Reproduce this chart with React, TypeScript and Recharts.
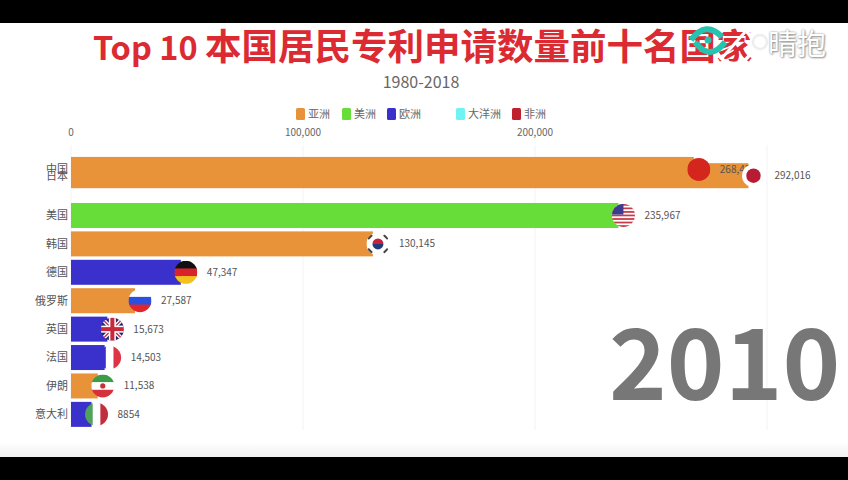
import React from "react";
import { ComposedChart, Bar, XAxis, YAxis, CartesianGrid, Legend, LabelList } from "recharts";

const FONT = '"Noto Sans CJK SC", "Noto Sans", sans-serif';

const countries = ["中国", "日本", "美国", "韩国", "德国", "俄罗斯", "英国", "法国", "伊朗", "意大利"];
const patentValues = [268454, 292016, 235967, 130145, 47347, 27587, 15673, 14503, 11538, 8854];
const countryContinents = ["亚洲", "亚洲", "美洲", "亚洲", "欧洲", "亚洲", "欧洲", "欧洲", "亚洲", "欧洲"];
// Rank positions are mid-animation: China and Japan are swapping places.
const ranks = [1.38, 1.6, 3, 4, 5, 6, 7, 8, 9, 10];
const continents = ["亚洲", "美洲", "欧洲", "大洋洲", "非洲"];
const continentColors = ["#E8923A", "#66DD38", "#3A31CC", "#70F3F5", "#C0212F"];
const legendSwatchX = [296, 342, 387, 456, 512];
const xTicks = [0, 100000, 200000];
const BAR_THICKNESS = 25;

const rows = countries.map((name, i) => {
  const row: Record<string, any> = { name, rank: ranks[i], value: patentValues[i] };
  row[countryContinents[i]] = patentValues[i];
  return row;
});

const fmtValue = (v: number) => (v >= 10000 ? v.toLocaleString("en-US") : String(v));
const fmtAxis = (v: number) => v.toLocaleString("en-US");

function Flag({ name, cx, cy }: { name: string; cx: number; cy: number }) {
  const r = 11.5;
  const x = cx - r;
  const y = cy - r;
  const d = r * 2;
  const id = "flag" + countries.indexOf(name);
  let body: React.ReactNode = null;
  const band = (k: number, n: number, fill: string) => (
    <rect x={x} y={y + (d * k) / n} width={d} height={d / n + 0.5} fill={fill} />
  );
  const vband = (k: number, n: number, fill: string) => (
    <rect x={x + (d * k) / n} y={y} width={d / n + 0.5} height={d} fill={fill} />
  );
  if (name === "中国") {
    body = <rect x={x} y={y} width={d} height={d} fill="#D5261E" />;
  } else if (name === "日本") {
    body = (
      <g>
        <rect x={x} y={y} width={d} height={d} fill="#fff" />
        <circle cx={cx} cy={cy} r={7.2} fill="#B71C34" />
      </g>
    );
  } else if (name === "美国") {
    body = (
      <g>
        {Array.from({ length: 13 }, (_, k) => (
          <React.Fragment key={k}>{band(k, 13, k % 2 ? "#fff" : "#C8394A")}</React.Fragment>
        ))}
        <rect x={x} y={y} width={d * 0.5} height={d * 0.46} fill="#3C3B8E" />
      </g>
    );
  } else if (name === "韩国") {
    body = (
      <g>
        <rect x={x} y={y} width={d} height={d} fill="#fff" />
        <path d={`M${cx - 5.5} ${cy} A5.5 5.5 0 0 1 ${cx + 5.5} ${cy} Z`} fill="#C8213F" />
        <path d={`M${cx - 5.5} ${cy} A5.5 5.5 0 0 0 ${cx + 5.5} ${cy} Z`} fill="#223A78" />
        {[[-8, -7, 1], [8, -7, -1], [-8, 7, -1], [8, 7, 1]].map(([a, b, s], k) => (
          <line key={k} x1={cx + a - 2} y1={cy + b + 2 * s} x2={cx + a + 2} y2={cy + b - 2 * s} stroke="#444" strokeWidth={2.4} />
        ))}
      </g>
    );
  } else if (name === "德国") {
    body = <g>{band(0, 3, "#111")}{band(1, 3, "#D9232B")}{band(2, 3, "#F2C21A")}</g>;
  } else if (name === "俄罗斯") {
    body = <g>{band(0, 3, "#fff")}{band(1, 3, "#2B4FE0")}{band(2, 3, "#E0262C")}</g>;
  } else if (name === "英国") {
    body = (
      <g>
        <rect x={x} y={y} width={d} height={d} fill="#27276F" />
        <line x1={x} y1={y} x2={x + d} y2={y + d} stroke="#fff" strokeWidth={4} />
        <line x1={x + d} y1={y} x2={x} y2={y + d} stroke="#fff" strokeWidth={4} />
        <line x1={x} y1={y} x2={x + d} y2={y + d} stroke="#C8283C" strokeWidth={1.4} />
        <line x1={x + d} y1={y} x2={x} y2={y + d} stroke="#C8283C" strokeWidth={1.4} />
        <rect x={cx - 3.5} y={y} width={7} height={d} fill="#fff" />
        <rect x={x} y={cy - 3.5} width={d} height={7} fill="#fff" />
        <rect x={cx - 2} y={y} width={4} height={d} fill="#C8283C" />
        <rect x={x} y={cy - 2} width={d} height={4} fill="#C8283C" />
      </g>
    );
  } else if (name === "法国") {
    body = <g>{vband(0, 3, "#3A31CC")}{vband(1, 3, "#fff")}{vband(2, 3, "#DD3344")}</g>;
  } else if (name === "伊朗") {
    body = (
      <g>
        {band(0, 3, "#3E9B4A")}
        {band(1, 3, "#fff")}
        {band(2, 3, "#D6303A")}
        <circle cx={cx} cy={cy} r={2.6} fill="#C8303A" />
      </g>
    );
  } else if (name === "意大利") {
    body = <g>{vband(0, 3, "#4FA35A")}{vband(1, 3, "#fff")}{vband(2, 3, "#C22F3C")}</g>;
  }
  return (
    <g>
      <clipPath id={id}>
        <circle cx={cx} cy={cy} r={r} />
      </clipPath>
      <g clipPath={`url(#${id})`}>{body}</g>
    </g>
  );
}

// The two rows that swap places sit closer than a bar is thick, so the band the
// scale offers is narrow: keep the library's centre and length, widen the rectangle.
function ThickBar(props: any) {
  const { x, y, width, height, fill } = props;
  if (!width) return null;
  return <rect x={x} y={y + height / 2 - BAR_THICKNESS / 2} width={width} height={BAR_THICKNESS} fill={fill} />;
}

function BarEnd(props: any) {
  const { x, y, width, height, value } = props;
  if (value == null || !width) return null;
  const row = rows.find((r) => r.value === value);
  if (!row) return null;
  const end = x + width;
  const cy = y + height / 2;
  return (
    <g>
      <Flag name={row.name} cx={end + 5} cy={cy} />
      <text x={end + 26} y={cy + 3.5} fontSize={10} fill="#555" fontFamily={FONT}>
        {fmtValue(value)}
      </text>
    </g>
  );
}

function LegendRow() {
  return (
    <div style={{ position: "absolute", left: 0, top: 0, width: 848, height: 30 }}>
      {continents.map((c, i) => (
        <React.Fragment key={c}>
          <div
            style={{
              position: "absolute",
              left: legendSwatchX[i],
              top: 108,
              width: 8.5,
              height: 11.5,
              borderRadius: 1.5,
              background: continentColors[i],
            }}
          />
          <div
            style={{
              position: "absolute",
              left: legendSwatchX[i] + 12,
              top: 105,
              fontSize: 11,
              lineHeight: "16px",
              color: "#666",
              fontFamily: FONT,
              whiteSpace: "nowrap",
            }}
          >
            {c}
          </div>
        </React.Fragment>
      ))}
    </div>
  );
}

const abs = (o: React.CSSProperties): React.CSSProperties => ({ position: "absolute", whiteSpace: "nowrap", fontFamily: FONT, ...o });

export default function App() {
  return (
    <div style={{ position: "fixed", left: 0, top: 0, width: 848, height: 480, overflow: "hidden", background: "#fff" }}>
      <div style={abs({ left: 93, top: 20, fontSize: 36.5, lineHeight: "50px", fontWeight: 700, color: "#DC2A32" })}>
        <span style={{ fontSize: 32.5 }}>Top 10 </span>本国居民专利申请数量前十名国家
      </div>
      <div style={abs({ left: 0, width: 842, textAlign: "center", top: 71, fontSize: 16, lineHeight: "20px", color: "#666" })}>
        1980-2018
      </div>
      <div style={{ position: "absolute", left: 0, top: 0 }}>
        <ComposedChart
          width={848}
          height={480}
          layout="vertical"
          data={rows}
          margin={{ top: 125, right: 81, bottom: 50, left: 0 }}
        >
          <CartesianGrid horizontal={false} stroke="#F3F3F6" />
          <XAxis
            type="number"
            orientation="top"
            domain={[0, 300000]}
            ticks={xTicks}
            tickFormatter={fmtAxis}
            axisLine={false}
            tickLine={false}
            height={20}
            tickMargin={3}
            tick={{ fontSize: 10, fill: "#666", fontFamily: FONT }}
          />
          <YAxis
            type="number"
            dataKey="rank"
            domain={[0.52, 10.55]}
            ticks={ranks}
            interval={0}
            tickFormatter={(v: number) => countries[ranks.indexOf(v)]}
            axisLine={false}
            tickLine={false}
            width={71}
            tickSize={0}
            tickMargin={3}
            tick={{ fontSize: 11, fill: "#555", fontFamily: FONT }}
          />
          <Legend content={() => <LegendRow />} wrapperStyle={{ position: "absolute", left: 0, top: 0, width: 848, height: 0 }} />
          {continents.map((c, i) => (
            <Bar key={c} dataKey={c} stackId="rows" fill={continentColors[i]} shape={ThickBar} isAnimationActive={false}>
              <LabelList dataKey={c} content={BarEnd} />
            </Bar>
          ))}
        </ComposedChart>
      </div>
      <div style={abs({ left: 609, top: 289, fontSize: 98, lineHeight: "136px", fontWeight: 700, color: "#777" })}>2010</div>

      {/* video watermark */}
      <svg width={848} height={480} style={{ position: "absolute", left: 0, top: 0 }}>
        <circle cx={734} cy={45} r={18.5} fill="none" stroke="#fff" strokeWidth={3.5} />
        <line x1={722} y1={58} x2={745} y2={32} stroke="#fff" strokeWidth={3} />
        <path d="M691 40 Q706 20 722 37" fill="none" stroke="#25C4B0" strokeWidth={6} />
        <path d="M695 42 Q710 62 725 42" fill="none" stroke="#25C4B0" strokeWidth={6} />
        <circle cx={708} cy={40} r={3.5} fill="#25C4B0" />
        <circle cx={760} cy={42} r={7} fill="none" stroke="#eee" strokeWidth={2.5} />
      </svg>
      <div
        style={abs({
          left: 768,
          top: 22,
          fontSize: 29,
          lineHeight: "40px",
          color: "#fff",
          textShadow: "0 0 2px #888, 1px 1px 2px #999",
        })}
      >
        晴抱
      </div>
      <div style={{ position: "absolute", left: 0, top: 442, width: 848, height: 15, background: "linear-gradient(#fff, #F1F1F1)" }} />
      <div style={{ position: "absolute", left: 0, top: 0, width: 848, height: 23, background: "#000" }} />
      <div style={{ position: "absolute", left: 0, top: 457, width: 848, height: 23, background: "#000" }} />
    </div>
  );
}
